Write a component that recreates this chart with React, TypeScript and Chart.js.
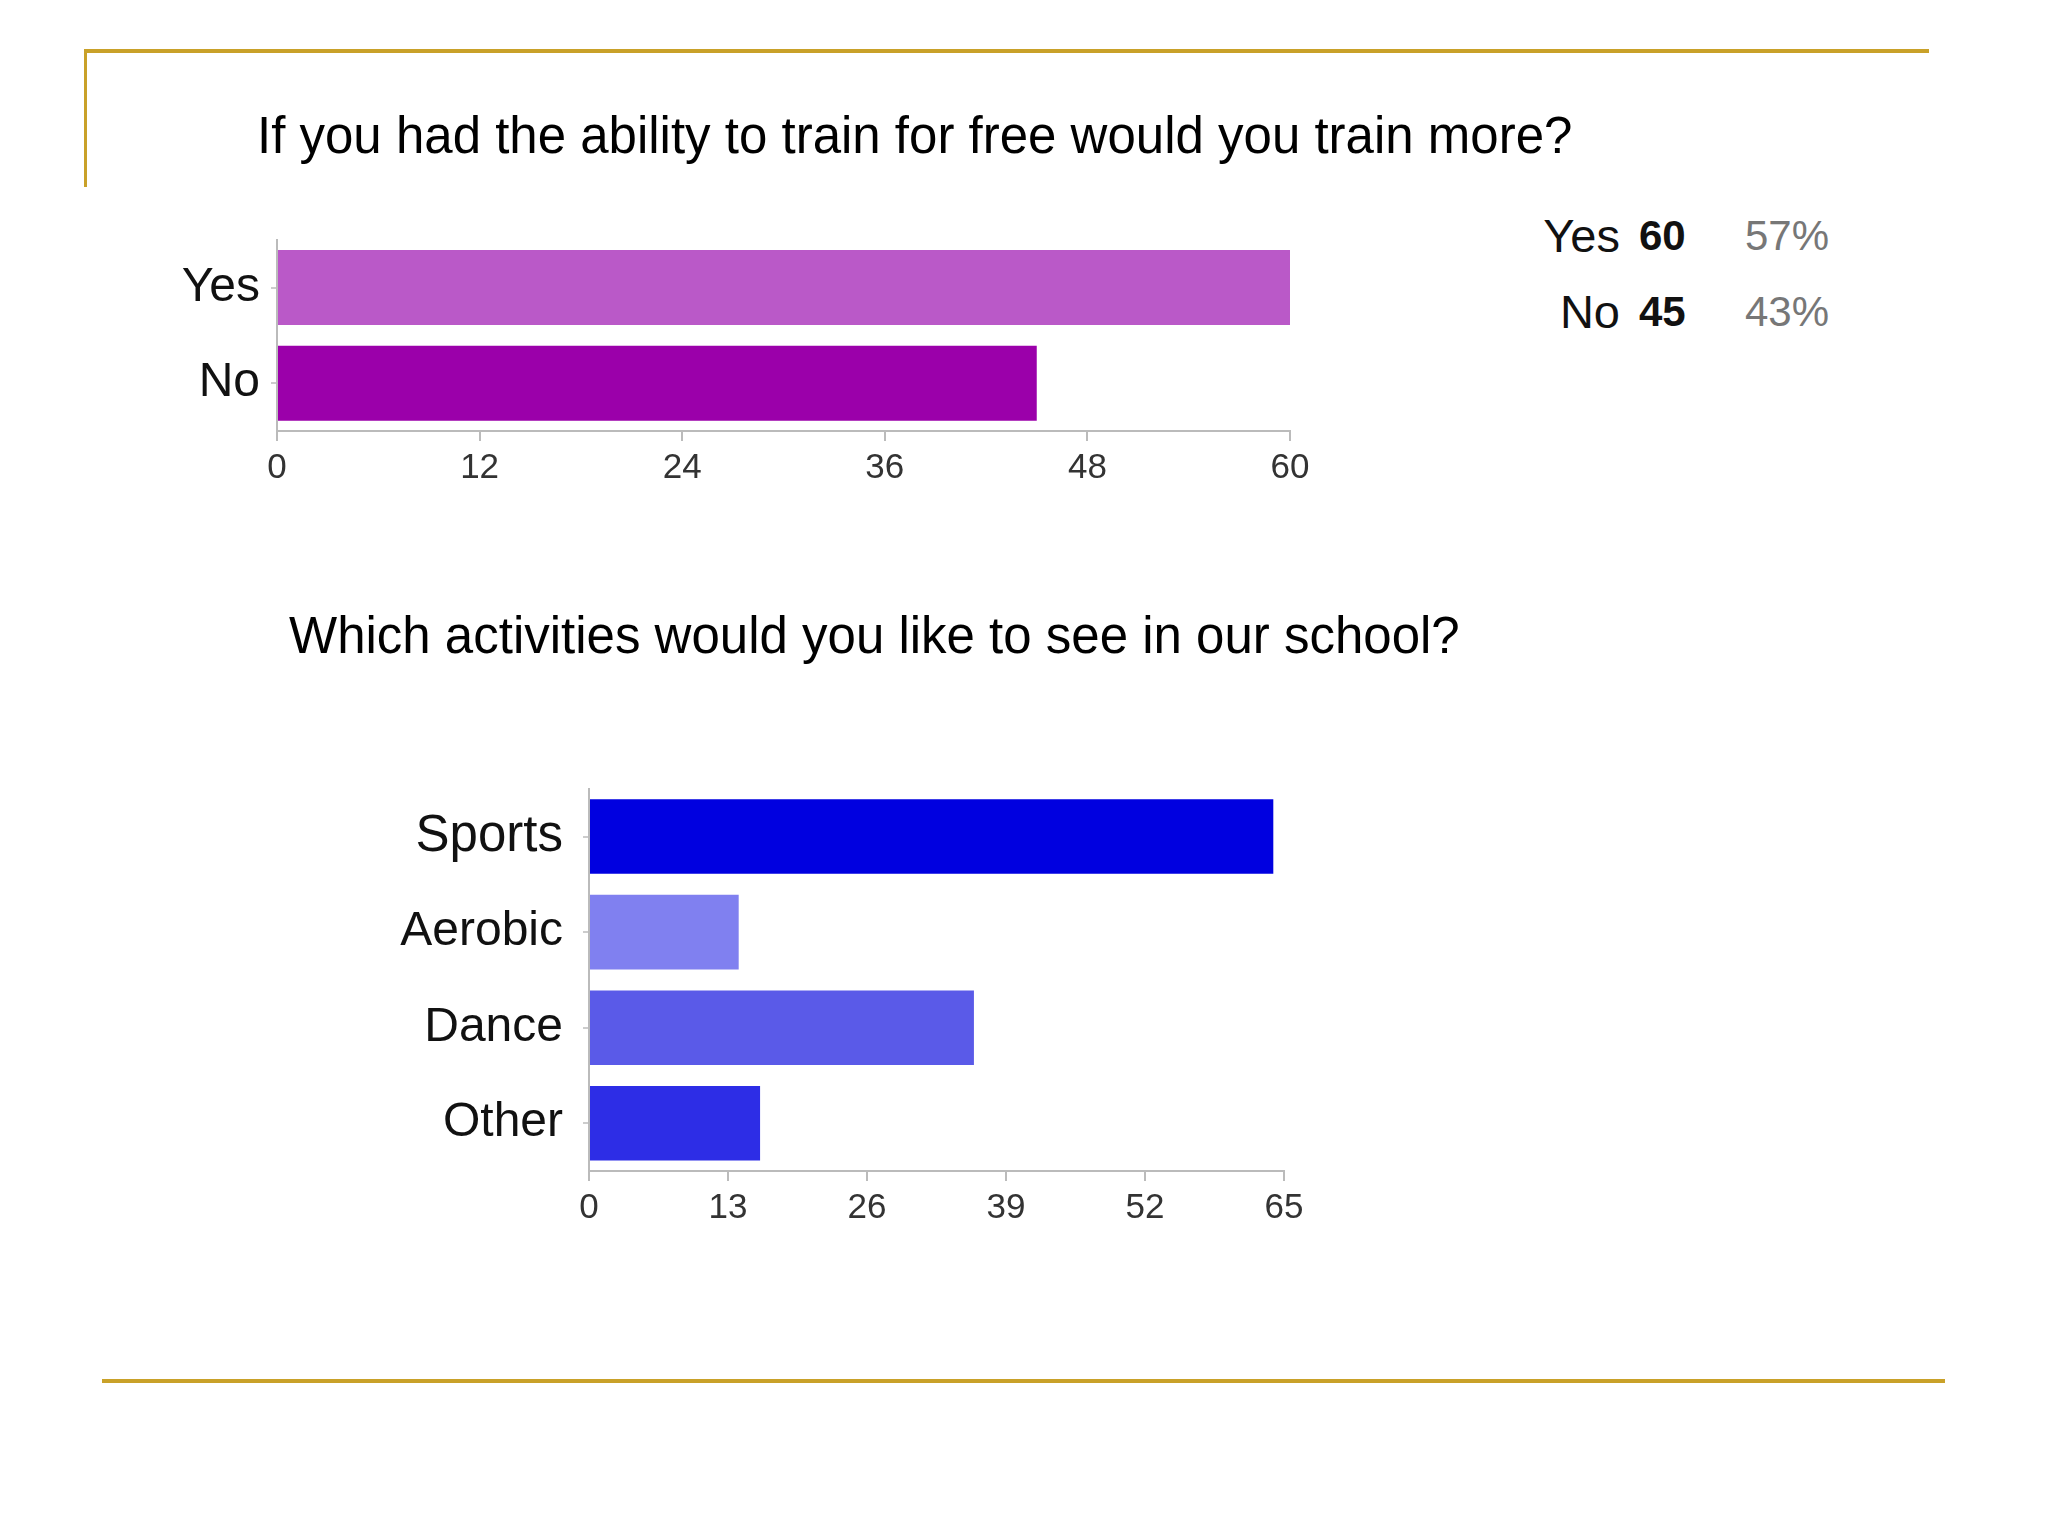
import { useEffect, useRef } from "react";
import Chart from "chart.js/auto";

// survey 1: train for free?
const trainLabels = ["Yes", "No"];
const trainValues = [60, 45];
const trainColors = ["#BA59C8", "#9B00AA"];

// survey 2: activities
const activityLabels = ["Sports", "Aerobic", "Dance", "Other"];
const activityValues = [64, 14, 36, 16];
const activityColors = ["#0000E0", "#8080F0", "#5A5AE8", "#2D2DE6"];

const FONT = '"Liberation Sans", Arial, sans-serif';
const GOLD = "#C9A129";

Chart.defaults.font.family = FONT;

interface BarChartProps {
  labels: string[];
  values: number[];
  colors: string[];
  max: number;
  step: number;
  left: number;
  top: number;
  width: number;
  height: number;
  yWidth: number;
  xHeight: number;
  padTop: number;
  padRight: number;
  barPct: number;
  labelSize: (i: number) => number;
  labelPad: number;
}

function BarChart(props: BarChartProps) {
  const chartRef = useRef<HTMLCanvasElement>(null);
  const chartInstanceRef = useRef<Chart | null>(null);

  useEffect(() => {
    if (!chartRef.current) return;
    const ctx = chartRef.current.getContext("2d");
    if (!ctx) return;

    const chart = new Chart(ctx, {
      type: "bar",
      data: {
        labels: props.labels,
        datasets: [
          {
            data: props.values,
            backgroundColor: props.colors,
            borderWidth: 0,
            barPercentage: props.barPct,
            categoryPercentage: 1,
          },
        ],
      },
      options: {
        indexAxis: "y",
        responsive: true,
        maintainAspectRatio: false,
        animation: false,
        layout: {
          padding: { top: props.padTop, right: props.padRight, left: 0, bottom: 0 },
        },
        plugins: {
          legend: { display: false },
          tooltip: { enabled: false },
        },
        scales: {
          x: {
            min: 0,
            max: props.max,
            ticks: {
              stepSize: props.step,
              color: "#333",
              padding: 6,
              font: { size: 35 },
            },
            grid: {
              drawOnChartArea: false,
              tickLength: 10,
              color: "#bbb",
              lineWidth: 2,
            },
            border: { color: "#bbb", width: 2 },
            afterFit: (scale) => {
              scale.height = props.xHeight;
            },
          },
          y: {
            ticks: {
              color: "#111",
              padding: props.labelPad,
              font: (c) => ({ size: props.labelSize(c.index) }),
            },
            grid: {
              drawOnChartArea: false,
              offset: false,
              tickLength: 6,
              color: "#ccc",
              lineWidth: 2,
            },
            border: { color: "#bbb", width: 2 },
            afterFit: (scale) => {
              scale.width = props.yWidth;
            },
          },
        },
      },
    });

    chartInstanceRef.current = chart;

    return () => {
      if (chartInstanceRef.current) {
        chartInstanceRef.current.destroy();
        chartInstanceRef.current = null;
      }
    };
  }, []);

  return (
    <div
      style={{
        position: "absolute",
        left: props.left,
        top: props.top,
        width: props.width,
        height: props.height,
      }}
    >
      <canvas ref={chartRef} />
    </div>
  );
}

export default function App() {
  const total = trainValues.reduce((a, b) => a + b, 0);

  return (
    <div
      style={{
        position: "absolute",
        left: 0,
        top: 0,
        width: 2048,
        height: 1536,
        background: "#fff",
        fontFamily: FONT,
        color: "#000",
        overflow: "hidden",
      }}
    >
      {/* gold frame lines */}
      <div style={{ position: "absolute", left: 84, top: 49, width: 1845, height: 4, background: GOLD }} />
      <div style={{ position: "absolute", left: 84, top: 49, width: 3, height: 138, background: GOLD }} />
      <div style={{ position: "absolute", left: 102, top: 1379, width: 1843, height: 4, background: GOLD }} />

      <div style={{ position: "absolute", left: 257, top: 110, fontSize: 51, lineHeight: "51px", whiteSpace: "nowrap" }}>
        If you had the ability to train for free would you train more?
      </div>

      <BarChart
        labels={trainLabels}
        values={trainValues}
        colors={trainColors}
        max={60}
        step={12}
        left={80}
        top={200}
        width={1290}
        height={300}
        yWidth={197}
        xHeight={69}
        padTop={38}
        padRight={80}
        barPct={0.785}
        labelSize={() => 48}
        labelPad={11}
      />

      {/* summary on the right */}
      {trainLabels.map((label, i) => (
        <div key={label} style={{ position: "absolute", top: 213 + i * 76, left: 1480, height: 46 }}>
          <span
            style={{
              position: "absolute",
              right: -140,
              width: 200,
              textAlign: "right",
              fontSize: 47,
              lineHeight: "45px",
              color: "#111",
            }}
          >
            {label}
          </span>
          <span
            style={{
              position: "absolute",
              left: 159,
              fontSize: 42,
              lineHeight: "45px",
              fontWeight: "bold",
              color: "#111",
            }}
          >
            {trainValues[i]}
          </span>
          <span
            style={{
              position: "absolute",
              left: 265,
              fontSize: 42,
              lineHeight: "45px",
              color: "#777",
            }}
          >
            {Math.round((trainValues[i] / total) * 100)}%
          </span>
        </div>
      ))}

      <div style={{ position: "absolute", left: 289, top: 610, fontSize: 51, lineHeight: "51px", whiteSpace: "nowrap" }}>
        Which activities would you like to see in our school?
      </div>

      <BarChart
        labels={activityLabels}
        values={activityValues}
        colors={activityColors}
        max={65}
        step={13}
        left={300}
        top={740}
        width={1060}
        height={520}
        yWidth={289}
        xHeight={89}
        padTop={47}
        padRight={76}
        barPct={0.78}
        labelSize={(i) => (i === 0 ? 51 : 48)}
        labelPad={20}
      />
    </div>
  );
}
